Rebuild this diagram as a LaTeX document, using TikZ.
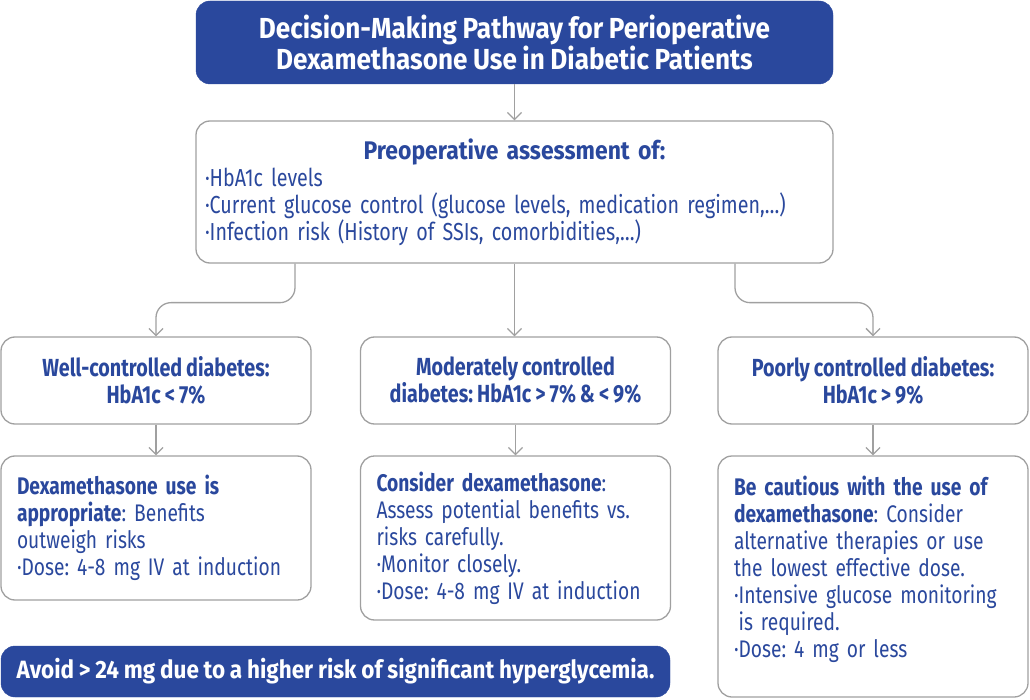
\documentclass[tikz,border=0pt]{standalone}
\usepackage{fontspec}
\setmainfont[FakeStretch=0.8, WordSpace=0.85]{Fira Sans}
\newfontfamily\HeadFont[FakeStretch=0.9, WordSpace=0.9]{Fira Sans}
\usepackage{xcolor}
\usepackage{tikz}
\usetikzlibrary{positioning}
\usetikzlibrary{arrows.meta}
\definecolor{PathBlue}{HTML}{2A489D}
\definecolor{EdgeGray}{HTML}{A0A0A0}
\frenchspacing

\begin{document}
\begin{tikzpicture}[x = 1pt, y = -1pt,
                	    header/.style = { rectangle, rounded corners = 14pt, fill = PathBlue, draw = PathBlue, text = white, align = center, inner sep = 0pt, font = \HeadFont\fontsize{29}{28}\selectfont\bfseries },
                		box/.style = { rectangle, rounded corners = 14pt, draw = EdgeGray, line width = 1.3pt, fill = white, text = PathBlue, inner sep = 0pt, font = \fontsize{24.6}{27}\selectfont },
                		level/.style = { box, align = center, minimum width = 310pt, minimum height = 87pt, font = \fontsize{24.7}{27}\selectfont\bfseries },
                		advice/.style = { box, align = left, text width = 278pt, minimum width = 310pt, font = \fontsize{24}{27}\selectfont },
                		link/.style = { draw = EdgeGray, line width = 1.3pt, rounded corners = 15pt, -{Straight Barb[length = 7pt, width = 14pt]} },
            		]
            		    \useasboundingbox (0,0) rectangle (1030,700);
            		    \node[header, minimum width = 637pt, minimum height = 83pt] (Title) at (514.5,42.5) {Decision-Making Pathway for Perioperative\\ Dexamethasone Use in Diabetic Patients};
            		    \node[box, align = left, text width = 619pt, minimum width = 637pt, minimum height = 142pt] (Assess) at (514.5,192) {\makebox[619pt]{\HeadFont\fontsize{25.5}{27}\selectfont\bfseries Preoperative assessment of:}\\ ·HbA1c levels\\ ·Current glucose control (glucose levels, medication regimen,…)\\ ·Infection risk (History of SSIs, comorbidities,…)};
            		    % HbA1c groups
            		    \node[level] (Well) at (156,380.5) {Well-controlled diabetes:\\ HbA1c < 7\%};
            		    \node[level] (Moderate) at (515.5,380.5) {Moderately controlled\\ diabetes: HbA1c > 7\% \& < 9\%};
            		    \node[level] (Poor) at (873,380.5) {Poorly controlled diabetes:\\ HbA1c > 9\%};
            		    % advice per group
            		    \node[advice, minimum height = 144pt] (WellDex) at (156,528) {\textbf{Dexamethasone use is}\\ \textbf{appropriate}: Benefits\\ outweigh risks\\ ·Dose: 4-8 mg IV at induction};
            		    \node[advice, minimum height = 164pt] (ModerateDex) at (515.5,538) {\textbf{Consider dexamethasone}:\\ Assess potential benefits vs.\\ risks carefully.\\ ·Monitor closely.\\ ·Dose: 4-8 mg IV at induction};
            		    \node[advice, minimum height = 241pt] (PoorDex) at (873,576.5) {\textbf{Be cautious with the use of}\\ \textbf{dexamethasone}: Consider\\ alternative therapies or use\\ the lowest effective dose.\\ ·Intensive glucose monitoring\\ \phantom{·}is required.\\ ·Dose: 4 mg or less\rule[-20pt]{0pt}{20pt}};
            		    \node[header, minimum width = 669pt, minimum height = 51pt, font = \HeadFont\fontsize{25}{25}\selectfont\bfseries] (Avoid) at (335.5,671.5) {Avoid > 24 mg due to a higher risk of significant hyperglycemia.};
            		    \draw[link] (Title) -- (Assess);
            		    \draw[link] ([xshift = -219.5pt]Assess.south) -- ++(0,39) -| (Well);
            		    \draw[link] (Assess.south) -- (Assess.south |- Moderate.north);
            		    \draw[link] ([xshift = 220.5pt]Assess.south) -- ++(0,39) -| (Poor);
            		    \draw[link] (Well) -- (WellDex);
            		    \draw[link] (Moderate) -- (ModerateDex);
            		    \draw[link] (Poor) -- (PoorDex);
            		\end{tikzpicture}
\end{document}
